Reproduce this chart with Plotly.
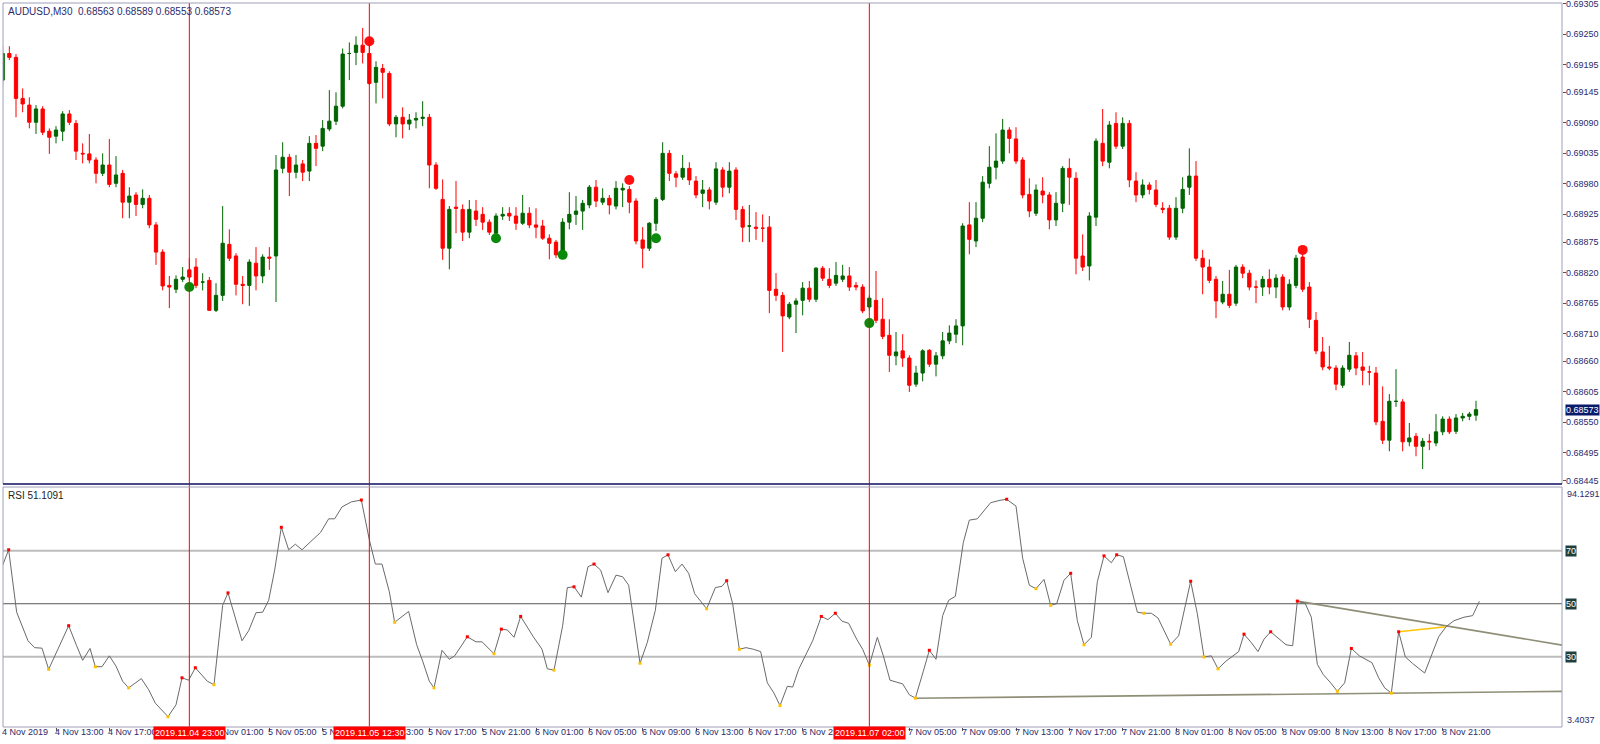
import plotly.graph_objects as go
from plotly.subplots import make_subplots

opens = [0.69167,0.69215,0.69208,0.69134,0.69122,0.69091,0.69115,0.69075,0.69066,0.69075,
0.69106,0.69089,0.69035,0.69034,0.69023,0.68999,0.69014,0.68981,0.68999,0.68947,
0.68960,0.68943,0.68954,0.68906,0.68857,0.68797,0.68790,0.68808,0.68825,0.68830,
0.68803,0.68806,0.68752,0.68779,0.68871,0.68850,0.68799,0.68797,0.68837,0.68814,
0.68848,0.68850,0.69008,0.69028,0.69001,0.69016,0.69003,0.69053,0.69048,0.69079,
0.69093,0.69120,0.69215,0.69217,0.69230,0.69215,0.69163,0.69188,0.69179,0.69088,
0.69100,0.69088,0.69095,0.69098,0.69100,0.69014,0.68952,0.68864,0.68938,0.68934,
0.68893,0.68931,0.68925,0.68911,0.68891,0.68922,0.68927,0.68922,0.68909,0.68927,
0.68906,0.68904,0.68882,0.68875,0.68852,0.68911,0.68925,0.68931,0.68942,0.68974,
0.68947,0.68954,0.68940,0.68969,0.68970,0.68949,0.68879,0.68864,0.68909,0.68952,
0.69035,0.68998,0.68992,0.69008,0.68985,0.68963,0.68969,0.68947,0.69005,0.68974,
0.69005,0.68934,0.68904,0.68902,0.68900,0.68902,0.68790,0.68779,0.68740,0.68763,
0.68770,0.68792,0.68772,0.68828,0.68808,0.68801,0.68808,0.68814,0.68797,0.68794,
0.68758,0.68770,0.68736,0.68707,0.68670,0.68679,0.68666,0.68619,0.68639,0.68680,
0.68655,0.68670,0.68697,0.68709,0.68724,0.68906,0.68877,0.68918,0.68981,0.69010,
0.69021,0.69077,0.69061,0.69023,0.68961,0.68927,0.68967,0.68960,0.68915,0.68945,
0.69008,0.68990,0.68850,0.68832,0.68920,0.69053,0.69019,0.69089,0.69048,0.69089,
0.68985,0.68960,0.68978,0.68969,0.68936,0.68936,0.68884,0.68936,0.68974,0.68994,
0.68846,0.68830,0.68808,0.68767,0.68781,0.68765,0.68830,0.68819,0.68794,0.68794,
0.68808,0.68794,0.68812,0.68758,0.68797,0.68848,0.68794,0.68734,0.68677,0.68650,
0.68648,0.68617,0.68646,0.68670,0.68650,0.68641,0.68639,0.68552,0.68518,0.68588,
0.68587,0.68515,0.68525,0.68507,0.68516,0.68513,0.68533,0.68556,0.68534,0.68558,
0.68561,0.68563]
highs = [0.69228,0.69228,0.69214,0.69152,0.69136,0.69122,0.69120,0.69080,0.69084,0.69111,
0.69113,0.69095,0.69053,0.69070,0.69028,0.69035,0.69061,0.69030,0.69005,0.68974,
0.68965,0.68970,0.68960,0.68911,0.68862,0.68814,0.68815,0.68830,0.68846,0.68846,
0.68819,0.68812,0.68801,0.68940,0.68898,0.68855,0.68814,0.68844,0.68866,0.68853,
0.68866,0.69032,0.69055,0.69034,0.69032,0.69023,0.69066,0.69068,0.69095,0.69149,
0.69145,0.69224,0.69235,0.69246,0.69261,0.69233,0.69201,0.69196,0.69183,0.69104,
0.69118,0.69106,0.69109,0.69129,0.69106,0.69019,0.68988,0.68940,0.68985,0.68943,
0.68951,0.68951,0.68938,0.68916,0.68927,0.68938,0.68938,0.68938,0.68960,0.68938,
0.68936,0.68915,0.68889,0.68879,0.68918,0.68965,0.68958,0.68951,0.68978,0.68987,
0.68972,0.68960,0.68985,0.68981,0.68976,0.68954,0.68902,0.68911,0.68956,0.69055,
0.69041,0.69003,0.69032,0.69019,0.68994,0.68987,0.68974,0.69019,0.69010,0.69019,
0.69010,0.68940,0.68942,0.68929,0.68925,0.68922,0.68819,0.68785,0.68767,0.68774,
0.68803,0.68805,0.68830,0.68832,0.68828,0.68839,0.68834,0.68830,0.68803,0.68799,
0.68779,0.68823,0.68774,0.68736,0.68713,0.68709,0.68671,0.68652,0.68682,0.68682,
0.68677,0.68713,0.68725,0.68736,0.68909,0.68947,0.68947,0.68994,0.69048,0.69071,
0.69097,0.69082,0.69082,0.69028,0.68990,0.68979,0.68992,0.68965,0.68965,0.69012,
0.69026,0.69001,0.68889,0.68929,0.69062,0.69115,0.69093,0.69109,0.69100,0.69095,
0.69001,0.68988,0.68983,0.68987,0.68947,0.68942,0.68956,0.68992,0.69044,0.69021,
0.68861,0.68844,0.68814,0.68805,0.68825,0.68834,0.68835,0.68825,0.68806,0.68814,
0.68826,0.68817,0.68817,0.68808,0.68852,0.68855,0.68803,0.68749,0.68704,0.68688,
0.68653,0.68653,0.68695,0.68677,0.68677,0.68652,0.68650,0.68615,0.68601,0.68646,
0.68592,0.68549,0.68531,0.68522,0.68529,0.68565,0.68561,0.68561,0.68565,0.68567,
0.68569,0.68589]
lows = [0.69158,0.69203,0.69100,0.69109,0.69080,0.69070,0.69068,0.69034,0.69053,0.69057,
0.69086,0.69023,0.69017,0.69017,0.68981,0.68994,0.68974,0.68974,0.68918,0.68918,
0.68922,0.68936,0.68900,0.68834,0.68788,0.68756,0.68783,0.68803,0.68806,0.68792,
0.68788,0.68751,0.68749,0.68769,0.68841,0.68779,0.68763,0.68760,0.68788,0.68801,
0.68825,0.68767,0.68999,0.68958,0.68990,0.68985,0.68985,0.69012,0.69039,0.69075,
0.69086,0.69116,0.69167,0.69194,0.69197,0.69158,0.69125,0.69134,0.69084,0.69064,
0.69062,0.69077,0.69080,0.69084,0.68972,0.68969,0.68843,0.68826,0.68891,0.68877,
0.68882,0.68904,0.68897,0.68888,0.68882,0.68915,0.68913,0.68897,0.68906,0.68900,
0.68882,0.68879,0.68844,0.68846,0.68846,0.68898,0.68906,0.68897,0.68936,0.68938,
0.68942,0.68925,0.68934,0.68938,0.68927,0.68871,0.68828,0.68859,0.68895,0.68949,
0.68985,0.68974,0.68987,0.68978,0.68954,0.68938,0.68934,0.68942,0.68956,0.68963,
0.68915,0.68875,0.68875,0.68879,0.68875,0.68747,0.68769,0.68677,0.68736,0.68711,
0.68743,0.68767,0.68767,0.68805,0.68792,0.68796,0.68803,0.68787,0.68788,0.68747,
0.68752,0.68729,0.68700,0.68641,0.68653,0.68650,0.68605,0.68614,0.68624,0.68650,
0.68633,0.68664,0.68691,0.68693,0.68689,0.68853,0.68866,0.68911,0.68972,0.68988,
0.69016,0.69035,0.69016,0.68954,0.68920,0.68922,0.68945,0.68898,0.68904,0.68929,
0.68942,0.68817,0.68823,0.68806,0.68904,0.69012,0.69008,0.69043,0.69043,0.68974,
0.68947,0.68954,0.68961,0.68938,0.68927,0.68879,0.68879,0.68927,0.68960,0.68841,
0.68781,0.68801,0.68738,0.68763,0.68756,0.68760,0.68810,0.68788,0.68765,0.68778,
0.68781,0.68774,0.68752,0.68752,0.68792,0.68785,0.68720,0.68673,0.68644,0.68644,
0.68608,0.68612,0.68641,0.68635,0.68617,0.68617,0.68545,0.68511,0.68498,0.68578,
0.68498,0.68507,0.68489,0.68466,0.68500,0.68507,0.68527,0.68529,0.68529,0.68552,
0.68554,0.68553]
closes = [0.69215,0.69208,0.69134,0.69124,0.69091,0.69115,0.69073,0.69064,0.69077,0.69106,
0.69091,0.69039,0.69034,0.69023,0.68999,0.69014,0.68979,0.68996,0.68947,0.68958,
0.68943,0.68954,0.68906,0.68857,0.68796,0.68794,0.68808,0.68812,0.68812,0.68797,
0.68803,0.68752,0.68779,0.68873,0.68846,0.68799,0.68797,0.68839,0.68814,0.68848,
0.68846,0.69005,0.69028,0.69001,0.69014,0.69001,0.69053,0.69044,0.69080,0.69093,
0.69120,0.69214,0.69215,0.69230,0.69217,0.69161,0.69190,0.69181,0.69088,0.69100,
0.69088,0.69095,0.69098,0.69100,0.69014,0.68972,0.68864,0.68934,0.68936,0.68893,
0.68934,0.68916,0.68911,0.68893,0.68922,0.68925,0.68922,0.68909,0.68927,0.68906,
0.68902,0.68882,0.68873,0.68852,0.68911,0.68925,0.68931,0.68945,0.68974,0.68949,
0.68954,0.68942,0.68972,0.68972,0.68947,0.68877,0.68864,0.68909,0.68952,0.69035,
0.68999,0.68992,0.69008,0.68987,0.68960,0.68969,0.68949,0.69007,0.68974,0.69003,
0.68934,0.68902,0.68904,0.68900,0.68900,0.68788,0.68779,0.68742,0.68763,0.68769,
0.68792,0.68772,0.68828,0.68810,0.68797,0.68815,0.68814,0.68794,0.68794,0.68751,
0.68774,0.68734,0.68705,0.68671,0.68677,0.68666,0.68617,0.68639,0.68679,0.68655,
0.68670,0.68697,0.68711,0.68724,0.68904,0.68880,0.68918,0.68983,0.69010,0.69021,
0.69077,0.69062,0.69021,0.68960,0.68931,0.68969,0.68960,0.68915,0.68945,0.69008,
0.68992,0.68846,0.68830,0.68922,0.69057,0.69021,0.69086,0.69048,0.69089,0.68987,
0.68960,0.68978,0.68970,0.68943,0.68934,0.68884,0.68936,0.68970,0.68994,0.68846,
0.68830,0.68806,0.68769,0.68781,0.68761,0.68830,0.68819,0.68794,0.68794,0.68808,
0.68794,0.68810,0.68758,0.68799,0.68846,0.68790,0.68736,0.68679,0.68650,0.68648,
0.68619,0.68648,0.68671,0.68648,0.68644,0.68641,0.68551,0.68518,0.68588,0.68588,
0.68515,0.68522,0.68507,0.68516,0.68515,0.68533,0.68556,0.68533,0.68558,0.68561,
0.68565,0.68573]

buy_bars = [28, 74, 84, 98, 130]
buy_prices = [0.68794, 0.68882, 0.68852, 0.68882, 0.68729]
sell_bars = [55, 94, 195]
sell_prices = [0.69237, 0.68987, 0.68861]

rsi_x = [0,0.9,2.1,3.8,4.8,5.9,6.9,9.9,11.1,12,13.1,13.9,14.9,16,17,18,18.9,20.8,21.9,22.9,24.8,26,26.9,27.9,28.9,
30.7,31.7,33,33.8,35,35.9,36.9,38,39,39.9,40.8,41.8,42.9,43.9,44.9,47.7,48.9,49.8,50.9,52.3,53.8,55,55.9,56.9,58,58.8,
60.9,62.1,63,64,64.7,65.9,67,67.8,69.7,71,71.9,73.7,74.8,75.7,76.7,77.7,79.6,80.9,81.7,82.7,84,84.7,85.7,86.8,87.8,
88.7,89.7,90.8,92,93,93.9,95.6,96.7,97.9,98.9,99.8,100.9,101.9,102.9,103.8,105.6,106.9,107.9,108.6,109.5,110.5,
111.5,112.6,113.7,114.7,115.7,116.6,117.7,118.5,119.4,120.4,121.5,122.8,123.8,124.9,125.9,126.9,128.1,129,130,
131.2,132.1,133.1,134.1,135,136,136.9,138.1,139,140,141,141.9,142.9,144.1,145,146.2,148.2,149.6,150.6,152,153,154,
155,156.2,157.2,158.1,159.2,160.2,161.2,162.2,163.3,164.2,165.2,166.3,167.1,168.1,169.2,170.2,171.2,172.3,173.3,
175.2,176.4,177.3,178.2,179.2,180.2,181.3,182.3,183.5,185.4,186.2,187.3,188.3,189.2,190.2,191.4,192.5,193.5,194.2,
195.4,196.3,197.2,198.1,199.2,200.2,201.3,202.3,203.5,205.4,206.4,207.3,208.3,209.4,210.4,211.5,213.3,214.4,215.4,
216.5,217.7,219.2,220.5,221.5]
rsi_v = [64.6,70.4,46.8,36,33.4,33.2,25.2,41.7,34.1,28.6,33.1,26.2,26.2,30.3,26.4,20.7,18.2,21.7,17.5,12.4,7.3,11.8,22,21.1,25.8,
20.7,19.4,49.4,54.1,43.6,36,39.8,46.6,46.8,51.3,62.7,78.9,70.4,72.5,70.4,77,82.1,82.1,86.6,88.5,89.2,74.2,65,65,54.5,43,
47.1,34.5,28.3,20.7,18.2,32.4,29,30.3,37.5,35.6,35.6,31.1,40.4,40.1,37.3,45.2,37.5,32.8,25.4,24.9,41.7,56.1,56.4,52.5,64,
65,62.7,54.2,60.8,60.2,57,27.5,35.4,47.5,67.2,68.5,62.1,65,61.5,53.8,48.1,56.1,56.6,58.7,50,32.8,
33.4,32.8,31.9,20.1,16.2,11.5,18.8,18.5,25.2,30.3,36,45.2,44,46.4,43.4,42.6,36.6,32.8,26.8,
37.3,30.3,21.1,20.4,19.7,15.6,14.3,24.5,32.4,29,45.5,51.3,52.8,73.2,81.6,82.1,88.2,89.1,89.5,86.9,67.2,57,
55.7,59.2,49.4,50,58.9,61.5,43.6,34.5,37.3,58.3,68.1,65.5,68.5,67.8,57,46.8,46.4,46.4,44.6,
34.7,37.9,48.7,58.5,46.2,29.9,30.3,25.4,28.3,31.9,38.5,35.3,31.9,36.6,39.4,36.9,34.5,34.1,51,
50,44.9,27.1,23.2,20.1,16.9,20.1,33.1,30.3,27.7,22,18.2,16.2,39.4,29.9,27.4,23.8,31.2,37.5,
41.3,43.6,44.9,45.5,50.9]
rsi_peak_x = [0.9,9.9,26.9,28.9,33.8,41.8,53.8,69.7,74.8,77.7,85.7,88.7,99.8,108.6,122.8,124.9,139,150.6,160.2,165.2,167.1,178.2,186.2,190.2,194.2,202.3,209.4]
rsi_peak_v = [70.4,41.7,22,25.8,54.1,78.9,89.2,37.5,40.4,45.2,56.4,65,68.5,58.7,45.2,46.4,32.4,89.5,61.5,68.1,68.5,58.5,38.5,39.4,51,33.1,39.4]
rsi_trough_x = [6.9,13.9,18.9,24.8,31.7,58.8,64.7,73.7,82.7,95.6,105.6,110.5,116.6,130,136.9,155,157.2,162.2,171.2,175.2,180.2,182.3,200.2,208.3]
rsi_trough_v = [25.2,26.2,18.2,7.3,19.4,43,18.2,31.1,24.9,27.5,48.1,32.8,11.5,26.8,14.3,55.7,49.4,34.5,46.4,34.7,29.9,25.4,16.9,16.2]

trend_down_x = [194.2, 234.5]
trend_down_v = [51.0, 34.1]
trend_low_x = [136.9, 234.5]
trend_low_v = [14.3, 16.9]
trend_up_x = [209.4, 216.5]
trend_up_v = [39.4, 41.3]

rsi_levels = [70, 50, 30]
price_ticks = [0.69305,0.69250,0.69195,0.69145,0.69090,0.69035,0.68980,0.68925,0.68875,
               0.68820,0.68765,0.68710,0.68660,0.68605,0.68550,0.68495,0.68445]
x_tick_bars = list(range(0, 217, 8))
x_tick_labels = ["4 Nov 2019","4 Nov 13:00","4 Nov 17:00","4 Nov 21:00","5 Nov 01:00","5 Nov 05:00",
 "5 Nov 09:00","5 Nov 13:00","5 Nov 17:00","5 Nov 21:00","6 Nov 01:00","6 Nov 05:00","6 Nov 09:00",
 "6 Nov 13:00","6 Nov 17:00","6 Nov 21:00","7 Nov 01:00","7 Nov 05:00","7 Nov 09:00","7 Nov 13:00",
 "7 Nov 17:00","7 Nov 21:00","8 Nov 01:00","8 Nov 05:00","8 Nov 09:00","8 Nov 13:00","8 Nov 17:00","8 Nov 21:00"]
vline_bars = [28, 55, 130]
vline_labels = ["2019.11.04 23:00", "2019.11.05 12:30", "2019.11.07 02:00"]

FONT = "Liberation Sans"
AX = "#2b2b6b"
bars = list(range(len(closes)))
XR = [0.05, 233.9]

fig = make_subplots(rows=2, cols=1, shared_xaxes=True, row_heights=[481, 240],
                    vertical_spacing=3/724)
fig.add_trace(go.Candlestick(x=bars, open=opens, high=highs, low=lows, close=closes,
    increasing=dict(line=dict(color="#006400", width=1), fillcolor="#006400"),
    decreasing=dict(line=dict(color="#ff0000", width=1), fillcolor="#ff0000"),
    whiskerwidth=0, hoverinfo="skip", showlegend=False), row=1, col=1)
fig.add_trace(go.Scatter(x=buy_bars, y=buy_prices, mode="markers",
    marker=dict(color="#0a8a0a", size=10), showlegend=False), row=1, col=1)
fig.add_trace(go.Scatter(x=sell_bars, y=sell_prices, mode="markers",
    marker=dict(color="#ff1010", size=10), showlegend=False), row=1, col=1)

for lv in rsi_levels:
    fig.add_trace(go.Scatter(x=XR, y=[lv, lv], mode="lines",
        line=dict(color="#555555" if lv == 50 else "#bdbdbd", width=1 if lv == 50 else 2),
        showlegend=False, hoverinfo="skip"), row=2, col=1)
for tx, tv, col in [(trend_down_x, trend_down_v, "#8f8f78"), (trend_low_x, trend_low_v, "#8f8f78"),
                    (trend_up_x, trend_up_v, "#ffc400")]:
    fig.add_trace(go.Scatter(x=tx, y=tv, mode="lines", line=dict(color=col, width=1.6),
        showlegend=False, hoverinfo="skip"), row=2, col=1)
fig.add_trace(go.Scatter(x=rsi_x, y=rsi_v, mode="lines", line=dict(color="#6a6a6a", width=1),
    showlegend=False, hoverinfo="skip"), row=2, col=1)
fig.add_trace(go.Scatter(x=rsi_peak_x, y=rsi_peak_v, mode="markers",
    marker=dict(color="#ff0000", size=3, symbol="square"), showlegend=False), row=2, col=1)
fig.add_trace(go.Scatter(x=rsi_trough_x, y=rsi_trough_v, mode="markers",
    marker=dict(color="#ffc000", size=3, symbol="square"), showlegend=False), row=2, col=1)

shapes = []
for b in vline_bars:
    shapes.append(dict(type="line", xref="x", yref="paper", x0=b, x1=b, y0=0, y1=1,
                       line=dict(color="#ff0000", width=1)))
shapes.append(dict(type="rect", xref="paper", yref="y domain", x0=0, x1=1, y0=0, y1=1,
                   line=dict(color="#a0a0b8", width=1)))
shapes.append(dict(type="rect", xref="paper", yref="y2 domain", x0=0, x1=1, y0=0, y1=1,
                   line=dict(color="#a0a0b8", width=1)))
shapes.append(dict(type="line", xref="paper", yref="y domain", x0=0, x1=1, y0=0, y1=0,
                   line=dict(color="#1c1c6c", width=1.5)))

ann = []
ann.append(dict(text="AUDUSD,M30  0.68563 0.68589 0.68553 0.68573", xref="paper", yref="y domain",
    x=0.002, y=0.997, xanchor="left", yanchor="top", showarrow=False, font=dict(family=FONT, size=10, color=AX)))
ann.append(dict(text="RSI 51.1091", xref="paper", yref="y2 domain",
    x=0.002, y=0.995, xanchor="left", yanchor="top", showarrow=False, font=dict(family=FONT, size=10, color="#222")))
for b, t in zip(x_tick_bars, x_tick_labels):
    ann.append(dict(text=t, x=max(b, XR[0]), xref="x", y=0, yref="paper", xanchor="left", yanchor="top",
        yshift=1, xshift=-2, showarrow=False, borderpad=0, font=dict(family=FONT, size=9, color=AX)))
for b, t in zip(vline_bars, vline_labels):
    ann.append(dict(text=t, x=b, xref="x", y=0, yref="paper", xanchor="center", yanchor="top",
        yshift=1, showarrow=False, bgcolor="#ff0000", borderpad=1,
        font=dict(family=FONT, size=9, color="white")))
for p in price_ticks:
    ann.append(dict(text=f"{p:.5f}", x=1, xref="paper", y=p, yref="y", xanchor="left",
        xshift=3, showarrow=False, borderpad=0, font=dict(family=FONT, size=9, color=AX)))
ann.append(dict(text="0.68573", x=1, xref="paper", y=closes[-1], yref="y", xanchor="left",
    xshift=3, showarrow=False, bgcolor="#0a1a6a", borderpad=0, font=dict(family=FONT, size=9, color="white")))
for v, txt in [(94.1291, "94.1291"), (3.4037, "3.4037")]:
    ann.append(dict(text=txt, x=1, xref="paper", y=v, yref="y2", xanchor="left", xshift=3,
        yanchor="top" if v > 50 else "bottom", showarrow=False, font=dict(family=FONT, size=9, color=AX)))
for lv in rsi_levels:
    ann.append(dict(text=str(lv), x=1, xref="paper", y=lv, yref="y2", xanchor="left", xshift=3,
        showarrow=False, bgcolor="#1f3f3f", borderpad=0, font=dict(family=FONT, size=9, color="white")))

fig.update_layout(width=1600, height=744, margin=dict(l=3, r=38, t=3, b=17),
    paper_bgcolor="white", plot_bgcolor="white", shapes=shapes, annotations=ann,
    font=dict(family=FONT, size=9, color=AX), showlegend=False)
fig.update_xaxes(range=XR, showgrid=False, zeroline=False, showticklabels=False,
                 rangeslider_visible=False)
fig.update_xaxes(row=2, col=1, tickvals=x_tick_bars, ticks="outside", ticklen=3, tickcolor="#555")
fig.update_yaxes(row=1, col=1, range=[0.68439, 0.69306], side="right", tickvals=price_ticks,
    showticklabels=False, ticks="outside", ticklen=3, tickcolor="#555",
    showgrid=False, zeroline=False)
fig.update_yaxes(row=2, col=1, range=[3.4037, 94.1291], side="right", showticklabels=False,
    showgrid=False, zeroline=False)
fig.write_html("out.html", config={"displayModeBar": False},
               post_script="document.body.style.margin='0';document.body.style.overflow='hidden';")
